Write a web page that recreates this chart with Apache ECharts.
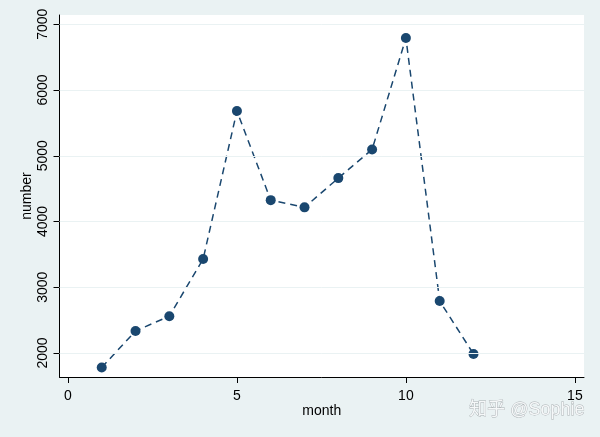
<!DOCTYPE html>
<html>
<head>
<meta charset="utf-8">
<script src="https://cdn.jsdelivr.net/npm/echarts@6/dist/echarts.min.js"></script>
<style>
html,body{margin:0;padding:0;background:#EAF2F3;}
#chart{width:600px;height:437px;}
</style>
</head>
<body>
<div id="chart"></div>
<script>
var months = [1,2,3,4,5,6,7,8,9,10,11,12];
var numbers = [1780,2335,2560,3430,5680,4325,4215,4660,5095,6790,2790,1985];
var xTicks = [0,5,10,15];
var yTicks = [2000,3000,4000,5000,6000,7000];

var chart = echarts.init(document.getElementById('chart'));
var FONT = '"Liberation Sans", Arial, sans-serif';
function plain(v){ return String(v); }
chart.setOption({
  backgroundColor: '#EAF2F3',
  animation: false,
  grid: {left: 59.5, right: 16, top: 15, bottom: 60, show: true, backgroundColor: '#ffffff', borderWidth: 0},
  xAxis: {
    type: 'value', min: -0.25, max: 15.27,
    name: 'month', nameLocation: 'middle', nameGap: 27, nameMoveOverlap: false,
    nameTextStyle: {color: '#000', fontSize: 14, fontFamily: FONT},
    axisLine: {show: true, onZero: false, lineStyle: {color: '#000', width: 1}},
    axisTick: {show: true, length: 6, customValues: xTicks, lineStyle: {color: '#000'}},
    axisLabel: {customValues: xTicks, formatter: plain, color: '#000', fontSize: 14, fontFamily: FONT, margin: 12},
    splitLine: {show: false}
  },
  yAxis: {
    type: 'value', min: 1635, max: 7141,
    name: 'number', nameLocation: 'middle', nameGap: 25, nameMoveOverlap: false,
    nameTextStyle: {color: '#000', fontSize: 14, fontFamily: FONT},
    axisLine: {show: true, onZero: false, lineStyle: {color: '#000', width: 1}},
    axisTick: {show: true, length: 6, customValues: yTicks, lineStyle: {color: '#000'}},
    axisLabel: {customValues: yTicks, formatter: plain, rotate: 90, color: '#000', fontSize: 14, fontFamily: FONT, margin: 9},
    splitLine: {show: false}
  },
  graphic: [{
    type: 'text', right: 15, top: 401,
    style: {text: '知乎 @Sophie', fontSize: 18, fontFamily: '"Liberation Sans", "Noto Sans CJK SC", sans-serif',
      fill: '#f6f8f9', stroke: '#a8aeb1', lineWidth: 0.8}
  }],
  series: [{
    type: 'line', data: [], silent: true, z: 1,
    markLine: {
      silent: true, symbol: 'none', label: {show: false}, animation: false,
      lineStyle: {color: '#EAF2F3', width: 1, type: 'solid'},
      data: yTicks.map(function(v){return {yAxis: v};})
    }
  }, {
    type: 'line', z: 3,
    data: months.map(function(m,i){return [m, numbers[i]];}),
    symbol: 'circle', symbolSize: 10,
    itemStyle: {color: '#1a476f'},
    lineStyle: {color: '#1a476f', width: 1.5, type: [7,5]}
  }]
});
</script>
</body>
</html>
